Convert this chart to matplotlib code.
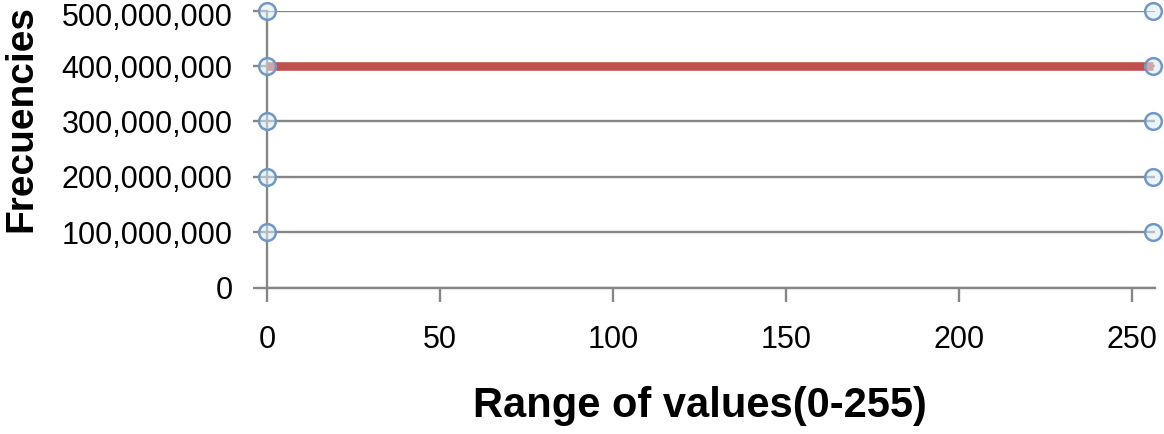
import matplotlib
matplotlib.use("Agg")
import matplotlib.pyplot as plt
from matplotlib.ticker import FuncFormatter
import matplotlib.transforms as mtransforms

# ---- data ----
line_x = [0, 256]
line_y = [400_000_000, 400_000_000]
marker_x = [0, 256]
marker_levels = [100_000_000, 200_000_000, 300_000_000, 400_000_000, 500_000_000]
x_ticks = [0, 50, 100, 150, 200, 250]
y_ticks = [0, 100_000_000, 200_000_000, 300_000_000, 400_000_000, 500_000_000]
x_label = "Range of values(0-255)"
y_label = "Frecuencies"

plt.rcParams['font.family'] = ['Liberation Sans', 'DejaVu Sans']

W, H = 1164, 434
fig = plt.figure(figsize=(W / 100, H / 100), dpi=100)
left, right = 267.3 / W, 1155 / W
bottom, top = 1 - 287.7 / H, 1 - 10.7 / H
ax = fig.add_axes([left, bottom, right - left, top - bottom])

grey = '#868686'
ax.set_xlim(0, 256.6)
ax.set_ylim(0, 500_000_000)
ax.set_xticks(x_ticks)
ax.set_yticks(y_ticks)
ax.yaxis.set_major_formatter(FuncFormatter(lambda v, p: f"{int(v):,}"))

for s in ['top', 'right']:
    ax.spines[s].set_visible(False)
for s in ['left', 'bottom']:
    ax.spines[s].set_color(grey)
    ax.spines[s].set_linewidth(1.7)

ax.grid(axis='y', color=grey, linewidth=1.7)
ax.set_axisbelow(True)
ax.tick_params(axis='both', direction='out', length=10, width=1.7, color=grey,
               labelsize=22, labelcolor='black')
ax.tick_params(axis='x', pad=17)
ax.tick_params(axis='y', pad=15)

# red series
ax.plot(line_x, line_y, color='#c0504d', linewidth=6.2, solid_capstyle='butt',
        zorder=3, clip_on=False)

# marker series
for lvl in marker_levels:
    ax.plot(marker_x, [lvl] * len(marker_x), linestyle='none', marker='o',
            markersize=12, markerfacecolor=(0.86, 0.93, 0.96, 0.55),
            markeredgecolor='#6f98c6', markeredgewidth=1.8, zorder=4, clip_on=False)

# nudge top y label down like the reference
lbls = ax.get_yticklabels()
off = mtransforms.ScaledTranslation(0, -4 / 100, fig.dpi_scale_trans)
lbls[-1].set_transform(lbls[-1].get_transform() + off)

fig.text(3 / W, 1 - 119 / H, y_label, rotation=90, ha='left', va='center',
         fontsize=28, fontweight='bold')
fig.text(700 / W, 1 - 417 / H, x_label, ha='center', va='baseline',
         fontsize=30, fontweight='bold')

fig.savefig('out.png', dpi=100)
